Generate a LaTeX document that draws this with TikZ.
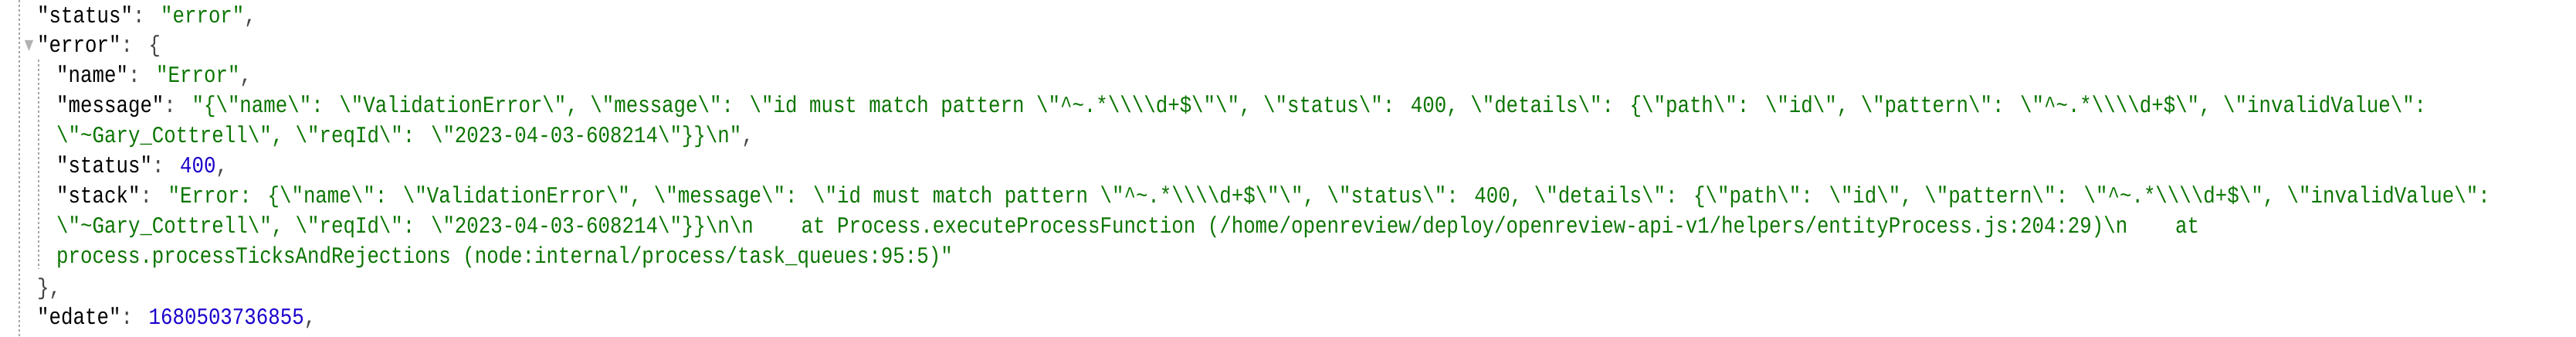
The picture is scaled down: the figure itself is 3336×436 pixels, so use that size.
\documentclass[tikz,border=0pt]{standalone}
\usepackage{fontspec}
\newfontfamily\jf{Liberation Mono}[FakeStretch=0.86]
\definecolor{jstr}{HTML}{0B7500}
\definecolor{jnum}{HTML}{1A01CC}
\definecolor{jpun}{HTML}{444444}
\newcommand\BS{\textbackslash}
\newcommand\Q{\textbackslash"}
\newcommand\pat{\textasciicircum\textasciitilde.*\BS\BS\BS\BS d+\$}
\newcommand\K[1]{\textcolor{black}{"#1"}\textcolor{jpun}{: }}
\newcommand\C{\textcolor{jpun}{,}}
\begin{document}
\begin{tikzpicture}[x=1bp,y=-1bp,
  ln/.style={anchor=base west,inner sep=0pt,font=\jf\fontsize{30.1pt}{34pt}\selectfont},
  guide/.style={draw=black!35,line width=1.2bp,dash pattern=on 3bp off 3bp}]
\useasboundingbox (0,0) rectangle (3336,436);
\fill[white] (0,0) rectangle (3336,436);
\coordinate (g1a) at (25,0); \coordinate (g1b) at (25,436);
\coordinate (g2a) at (50,77); \coordinate (g2b) at (50,348);
\draw[guide] (g1a) -- (g1b);
\draw[guide] (g2a) -- (g2b);
\fill[black!30] (32,52) -- (43,52) -- (37.5,66) -- cycle;
\node[ln] (l1) at (48,30) {\K{status}\textcolor{jstr}{"error"}\C};
\node[ln] (l2) at (48,68) {\K{error}\textcolor{jpun}{\{}};
\node[ln] (l3) at (73,107) {\K{name}\textcolor{jstr}{"Error"}\C};
\node[ln] (l4) at (73,146) {\K{message}\textcolor{jstr}{"\{\Q name\Q: \Q ValidationError\Q, \Q message\Q: \Q id must match pattern \Q\pat\Q\Q, \Q status\Q: 400, \Q details\Q: \{\Q path\Q: \Q id\Q, \Q pattern\Q: \Q\pat\Q, \Q invalidValue\Q:}};
\node[ln] (l5) at (73,185) {\textcolor{jstr}{\Q\textasciitilde Gary\_Cottrell\Q, \Q reqId\Q: \Q 2023-04-03-608214\Q\}\}\BS n"}\C};
\node[ln] (l6) at (73,224) {\K{status}\textcolor{jnum}{400}\C};
\node[ln] (l7) at (73,263) {\K{stack}\textcolor{jstr}{"Error: \{\Q name\Q: \Q ValidationError\Q, \Q message\Q: \Q id must match pattern \Q\pat\Q\Q, \Q status\Q: 400, \Q details\Q: \{\Q path\Q: \Q id\Q, \Q pattern\Q: \Q\pat\Q, \Q invalidValue\Q:}};
\node[ln] (l8) at (73,302) {\textcolor{jstr}{\Q\textasciitilde Gary\_Cottrell\Q, \Q reqId\Q: \Q 2023-04-03-608214\Q\}\}\BS n\BS n\ \ \ \ at Process.executeProcessFunction (/home/openreview/deploy/openreview-api-v1/helpers/entityProcess.js:204:29)\BS n\ \ \ \ at}};
\node[ln] (l9) at (73,341) {\textcolor{jstr}{process.processTicksAndRejections (node:internal/process/task\_queues:95:5)"}};
\node[ln] (l10) at (48,382) {\textcolor{jpun}{\},}};
\node[ln] (l11) at (48,419) {\K{edate}\textcolor{jnum}{1680503736855}\C};
\end{tikzpicture}
\end{document}
